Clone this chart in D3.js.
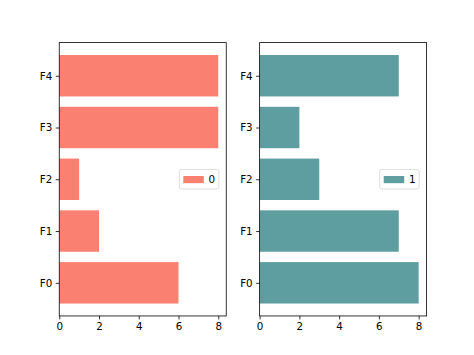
<!DOCTYPE html>
<html><head><meta charset="utf-8">
<script src="https://cdn.jsdelivr.net/npm/d3@7"></script>
<style>body{margin:0;background:#fff}svg{display:block}text{font-family:"DejaVu Sans",sans-serif}</style>
</head><body>
<script>
const categories = ["F0","F1","F2","F3","F4"];
const series0 = [6,2,1,8,8];
const series1 = [8,7,3,2,7];
const seriesNames = ["0","1"];
const colors = ["#fa8072","#5f9ea0"];
const xTicks = [0,2,4,6,8];

(function(){
const W=474,H=355;
const svg=d3.select("body").append("svg").attr("width",W).attr("height",H);
const axTop=42.6,axBottom=315.95,axW=166.98;
const lefts=[59.25,59.25+axW*1.2];
const fs=10.3;
[series0,series1].forEach((vals,i)=>{
  const L=lefts[i];
  const x=d3.scaleLinear().domain([0,8.4]).range([L,L+axW]);
  const y=d3.scaleLinear().domain([-0.64,4.64]).range([axBottom,axTop]);
  const g=svg.append("g");
  g.selectAll("rect.bar").data(vals).enter().append("rect")
    .attr("x",x(0)).attr("y",(d,j)=>y(j+0.4))
    .attr("width",d=>x(d)-x(0)).attr("height",(d,j)=>y(j-0.4)-y(j+0.4))
    .attr("fill",colors[i]);
  const xa=g.append("g").attr("transform",`translate(0,${axBottom})`)
    .call(d3.axisBottom(x).tickValues(xTicks).tickSize(3.5).tickPadding(3.5).tickFormat(d3.format("d")));
  const ya=g.append("g").attr("transform",`translate(${L},0)`)
    .call(d3.axisLeft(y).tickValues(d3.range(categories.length)).tickSize(3.5).tickPadding(3.5).tickFormat(j=>categories[j]));
  [xa,ya].forEach(a=>{a.select(".domain").remove();a.selectAll("text").attr("font-size",fs).attr("fill","#000").style("font-family","DejaVu Sans");a.selectAll("line").attr("stroke","#000").attr("stroke-width",0.8);});
  g.append("rect").attr("x",L).attr("y",axTop).attr("width",axW).attr("height",axBottom-axTop)
    .attr("fill","none").attr("stroke","#000").attr("stroke-width",0.8);
  const lw=39.5,lh=19.5;
  const lx=L+axW-7.4-lw, ly=(axTop+axBottom)/2-lh/2;
  const lg=g.append("g");
  lg.append("rect").attr("x",lx).attr("y",ly).attr("width",lw).attr("height",lh).attr("rx",2)
    .attr("fill","#fff").attr("fill-opacity",0.8).attr("stroke","#d6d6d6").attr("stroke-width",0.8);
  lg.append("rect").attr("x",lx+4).attr("y",ly+lh/2-3.3).attr("width",20.5).attr("height",7.2).attr("fill",colors[i]);
  lg.append("text").attr("x",lx+32.5).attr("y",ly+lh/2).attr("dy","0.35em").attr("font-size",fs)
    .attr("text-anchor","middle").text(seriesNames[i]);
});
})();
</script>
</body></html>
